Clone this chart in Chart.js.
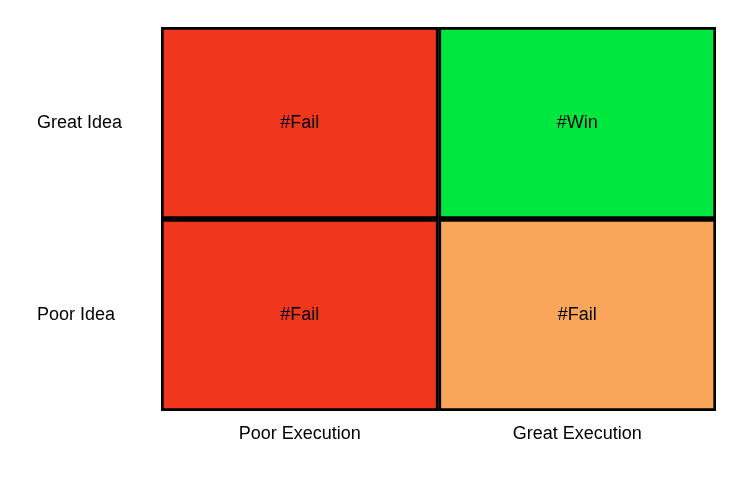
<!DOCTYPE html>
<html><head><meta charset="utf-8">
<script src="https://cdn.jsdelivr.net/npm/chart.js@4/dist/chart.umd.min.js"></script>
<style>html,body{margin:0;background:#fff}#w{position:absolute;left:0;top:0;width:748px;height:489px}</style>
</head><body><div id="w"><canvas id="c"></canvas></div>
<script>
const executionLabels = ["Poor Execution", "Great Execution"];
const ideaLabels = ["Poor Idea", "Great Idea"];
const poorIdeaValues = [1, 1];
const greatIdeaValues = [1, 1];
const poorIdeaText = ["#Fail", "#Fail"];
const greatIdeaText = ["#Fail", "#Win"];
const poorIdeaColors = ["#F0361D", "#F9A65A"];
const greatIdeaColors = ["#F0361D", "#00E83F"];

const cellText = {
  id: "cellText",
  afterDatasetsDraw(chart) {
    const ctx = chart.ctx;
    ctx.save();
    ctx.fillStyle = "#000";
    ctx.font = "18px 'Liberation Sans', Arial, sans-serif";
    ctx.textAlign = "center";
    ctx.textBaseline = "middle";
    const texts = [poorIdeaText, greatIdeaText];
    chart.data.datasets.forEach((ds, i) => {
      chart.getDatasetMeta(i).data.forEach((el, j) => {
        const p = el.getProps(["x", "y", "base"], true);
        ctx.fillText(texts[i][j], p.x, (p.y + p.base) / 2);
      });
    });
    ctx.restore();
  }
};

new Chart(document.getElementById("c"), {
  type: "bar",
  data: {
    labels: executionLabels,
    datasets: [
      { label: ideaLabels[0], data: poorIdeaValues, backgroundColor: poorIdeaColors },
      { label: ideaLabels[1], data: greatIdeaValues, backgroundColor: greatIdeaColors }
    ]
  },
  options: {
    responsive: true, maintainAspectRatio: false, animation: false,
    layout: { padding: { top: 27, right: 32, left: 37, bottom: 0 } },
    datasets: { bar: { barPercentage: 1, categoryPercentage: 1, borderColor: "#000", borderWidth: 3, borderSkipped: false } },
    plugins: { legend: { display: false }, tooltip: { enabled: false } },
    scales: {
      x: {
        stacked: true,
        grid: { display: false, drawTicks: false },
        border: { display: false },
        ticks: { color: "#000", padding: 12, font: { size: 18, family: "'Liberation Sans', Arial, sans-serif" } },
        afterFit(s) { s.height = 78; }
      },
      y: {
        stacked: true, min: 0, max: 2,
        grid: { display: false, drawTicks: false },
        border: { display: false },
        afterBuildTicks(s) { s.ticks = [{ value: 0.5 }, { value: 1.5 }]; },
        ticks: {
          color: "#000", crossAlign: "far", padding: 0,
          font: { size: 18, family: "'Liberation Sans', Arial, sans-serif" },
          callback: (v) => v < 1 ? ideaLabels[0] : ideaLabels[1]
        },
        afterFit(s) { s.width = 124; }
      }
    }
  },
  plugins: [cellText]
});
</script></body></html>
